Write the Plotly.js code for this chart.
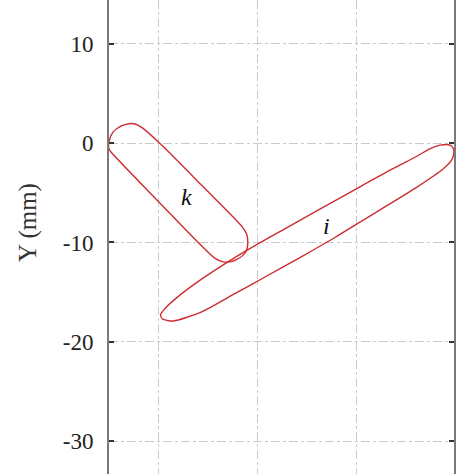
<!DOCTYPE html>
<html>
<head>
<meta charset="utf-8">
<script src="https://cdn.plot.ly/plotly-3.0.1.min.js"></script>
<style>html,body{margin:0;padding:0;background:#fff;}#chart{width:474px;height:474px;}</style>
</head>
<body>
<div id="chart"></div>
<script>
// Loop k (X, Y in mm)
const kX = [-15.0, -15.0, -14.6, -13.8, -13.0, -12.3, -11.6, -9.8, -5.7, -1.5, -1.1, -1.0, -1.1, -1.5, -2.1, -2.8, -3.5, -4.3, -6.0, -9.8, -14.8, -15.0];
const kY = [-0.6, 0.1, 1.1, 1.7, 1.95, 1.9, 1.5, -0.1, -4.2, -8.5, -9.2, -10.0, -10.7, -11.3, -11.7, -11.95, -11.95, -11.6, -10.0, -6.1, -0.9, -0.6];
// Loop i (X, Y in mm)
const iX = [19.75, 19.4, 18.4, 17.4, 16.1, 13.5, 10.4, 6.0, 2.6, -0.5, -3.0, -5.7, -8.1, -9.4, -9.8, -9.6, -9.1, -8.5, -5.7, -2.4, 0.6, 4.3, 7.7, 10.4, 12.7, 16.1, 18.7, 19.5, 19.75, 19.75];
const iY = [-0.6, -0.2, -0.2, -0.55, -1.3, -2.65, -4.35, -6.8, -8.7, -10.45, -11.95, -13.72, -15.5, -16.7, -17.3, -17.7, -17.85, -17.9, -17.0, -15.2, -13.55, -11.5, -9.55, -7.9, -6.5, -4.4, -2.6, -1.8, -1.2, -0.6];
// Axis ticks
const yTicks = [10, 0, -10, -20, -30];
const xGrid = [-10, 0, 10];
// Loop labels
const labelNames = ['k', 'i'];
const labelX = [-7.2, 6.9];
const labelY = [-5.4, -8.3];

const lineStyle = {color: 'rgb(205,45,50)', width: 1.4, shape: 'spline', smoothing: 0.8};
const traces = [
  {x: kX, y: kY, mode: 'lines', line: lineStyle, hoverinfo: 'skip'},
  {x: iX, y: iY, mode: 'lines', line: lineStyle, hoverinfo: 'skip'}
];
const fontSerif = 'Liberation Serif, Times New Roman, serif';
const layout = {
  width: 474, height: 474,
  margin: {l: 109, r: 20, t: 0, b: 0, pad: 0},
  paper_bgcolor: '#fff', plot_bgcolor: '#fff',
  showlegend: false,
  xaxis: {
    range: [-15, 19.8], tickvals: xGrid, showticklabels: false, ticks: '',
    showgrid: true, gridcolor: '#cacaca', griddash: 'dashdot', gridwidth: 1,
    zeroline: false, showline: false
  },
  yaxis: {
    range: [-33.3, 14.4], tickvals: yTicks, ticktext: yTicks.map(String),
    ticks: 'inside', ticklen: 5, tickwidth: 2, tickcolor: '#333',
    showgrid: true, gridcolor: '#cacaca', griddash: 'dashdot', gridwidth: 1,
    zeroline: false, showline: true, linecolor: '#7a7a7a', linewidth: 2, mirror: 'ticks',
    tickfont: {family: fontSerif, size: 23, color: '#222'},
    ticklabelstandoff: 9
  },
  annotations: labelNames.map((t, j) => ({
    x: labelX[j], y: labelY[j], xref: 'x', yref: 'y', text: '<i>' + t + '</i>', showarrow: false,
    font: {family: fontSerif, size: 24, color: '#111'}
  })).concat([{
    x: (28 - 109) / 345, y: (474 - 223) / 474, xref: 'paper', yref: 'paper',
    text: 'Y (mm)', textangle: -90, showarrow: false,
    xanchor: 'center', yanchor: 'middle',
    font: {family: fontSerif, size: 25, color: '#333'}
  }])
};
Plotly.newPlot('chart', traces, layout, {displayModeBar: false, staticPlot: true});
</script>
</body>
</html>
